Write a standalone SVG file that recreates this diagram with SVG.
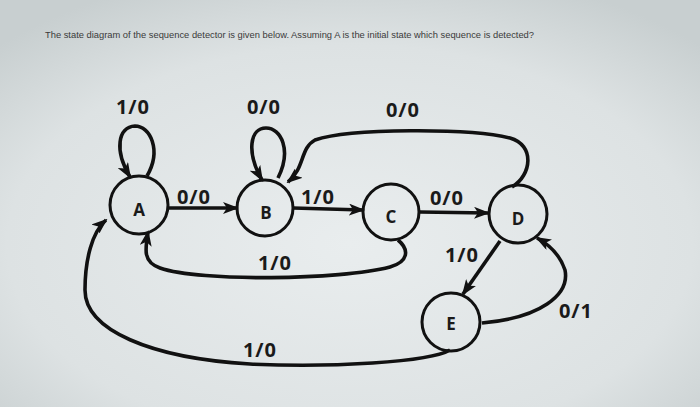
<svg xmlns="http://www.w3.org/2000/svg" width="700" height="407" viewBox="0 0 700 407">
<defs>
<radialGradient id="bg" cx="0.5" cy="0.6" r="0.7">
<stop offset="0" stop-color="#e9edee"/>
<stop offset="0.7" stop-color="#dde2e3"/>
<stop offset="1" stop-color="#c8cfd0"/>
</radialGradient>
<marker id="ar" markerUnits="userSpaceOnUse" markerWidth="16" markerHeight="12" refX="14" refY="6" orient="auto">
<path d="M0,0 L16,6 L0,12 L4,6 z" fill="#111"/>
</marker>
<style>
.c{fill:none;stroke:#111;stroke-width:3}
.e{fill:none;stroke:#111;stroke-width:3.6;marker-end:url(#ar)}
.n{font-family:"Open Sans","Liberation Sans",sans-serif;font-weight:bold;font-size:17px;fill:#1a1a1a;text-anchor:middle}
.l{font-family:"Open Sans","Liberation Sans",sans-serif;font-weight:bold;font-size:20px;fill:#1a1a1a;text-anchor:middle;letter-spacing:1px}
</style>
</defs>
<rect width="700" height="407" fill="url(#bg)"/>
<text x="45" y="38" font-family="Liberation Sans, sans-serif" font-size="9.5" fill="#3a3a3a" textLength="489" lengthAdjust="spacingAndGlyphs">The state diagram of the sequence detector is given below. Assuming A is the initial state which sequence is detected?</text>
<g id="connectors">
<path class="e" d="M147 176 C162 150 150 126 135 126 C118 127 114 150 130 177"/>
<path class="e" d="M278 178 C292 150 281 128 266 128 C250 128 246 152 262 180"/>
<path class="e" d="M168 208 L237 208"/>
<path class="e" d="M293 208 L363 210"/>
<path class="e" d="M420 212 L488 213"/>
<path class="e" d="M512 187 C532 175 535 145 510 138 C470 128 350 128 315 140 C300 148 305 168 288 182"/>
<path class="e" d="M398 240 C410 250 408 262 390 267 C340 280 200 282 160 268 C143 262 145 250 148 232"/>
<path class="e" d="M500 241 L463 294"/>
<path class="e" d="M482 323 C540 318 570 295 565 270 C560 255 548 244 537 238"/>
<path class="e" d="M450 350 C430 362 330 368 250 364 C150 358 85 330 85 290 C85 260 92 232 106 220"/>
</g>
<g id="A"><circle class="c" cx="139" cy="205" r="29"/><text class="n" x="139" y="216">A</text></g>
<g id="B"><circle class="c" cx="265" cy="208" r="28"/><text class="n" x="266" y="219">B</text></g>
<g id="C"><circle class="c" cx="391" cy="212" r="28"/><text class="n" x="391" y="223">C</text></g>
<g id="D"><circle class="c" cx="518" cy="214" r="29"/><text class="n" x="518" y="225">D</text></g>
<g id="E"><circle class="c" cx="451" cy="322" r="29"/><text class="n" x="451" y="330" font-size="13">E</text></g>
<g id="labels">
<text class="l" x="133" y="114">1/0</text>
<text class="l" x="264" y="114">0/0</text>
<text class="l" x="403" y="117">0/0</text>
<text class="l" x="194" y="204">0/0</text>
<text class="l" x="318" y="204">1/0</text>
<text class="l" x="447" y="205">0/0</text>
<text class="l" x="275" y="270">1/0</text>
<text class="l" x="462" y="262">1/0</text>
<text class="l" x="576" y="318">0/1</text>
<text class="l" x="260" y="357">1/0</text>
</g>
</svg>
